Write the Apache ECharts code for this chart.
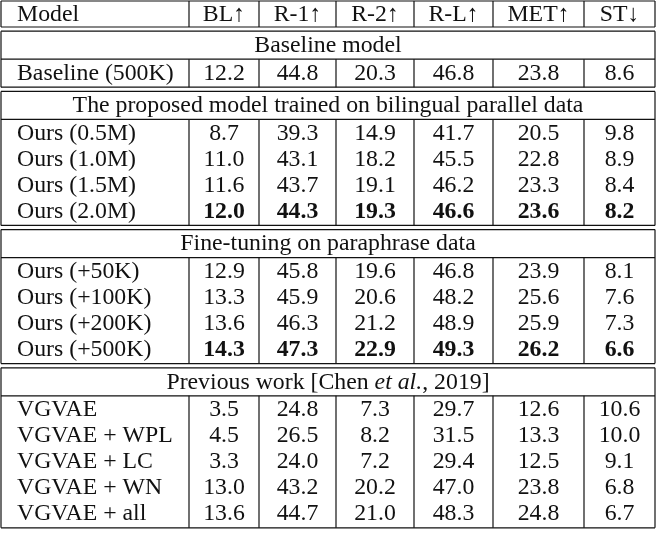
<!DOCTYPE html>
<html>
<head>
<meta charset="utf-8">
<script src="https://cdn.jsdelivr.net/npm/echarts@6/dist/echarts.min.js"></script>
<style>
html,body{margin:0;padding:0;background:#fff;}
#chart{width:658px;height:533px;}
</style>
</head>
<body>
<div id="chart"></div>
<script>
// ---------- data ----------
const headers = ['Model', 'BL↑', 'R-1↑', 'R-2↑', 'R-L↑', 'MET↑', 'ST↓'];
const sectionTitles = [
  'Baseline model',
  'The proposed model trained on bilingual parallel data',
  'Fine-tuning on paraphrase data',
  'Previous work [Chen {i|et al.}, 2019]'
];
const baselineModels = ['Baseline (500K)'];
const baselineValues = [[12.2, 44.8, 20.3, 46.8, 23.8, 8.6]];
const proposedModels = ['Ours (0.5M)', 'Ours (1.0M)', 'Ours (1.5M)', 'Ours (2.0M)'];
const proposedValues = [
  [8.7, 39.3, 14.9, 41.7, 20.5, 9.8],
  [11.0, 43.1, 18.2, 45.5, 22.8, 8.9],
  [11.6, 43.7, 19.1, 46.2, 23.3, 8.4],
  [12.0, 44.3, 19.3, 46.6, 23.6, 8.2]
];
const finetuneModels = ['Ours (+50K)', 'Ours (+100K)', 'Ours (+200K)', 'Ours (+500K)'];
const finetuneValues = [
  [12.9, 45.8, 19.6, 46.8, 23.9, 8.1],
  [13.3, 45.9, 20.6, 48.2, 25.6, 7.6],
  [13.6, 46.3, 21.2, 48.9, 25.9, 7.3],
  [14.3, 47.3, 22.9, 49.3, 26.2, 6.6]
];
const previousModels = ['VGVAE', 'VGVAE + WPL', 'VGVAE + LC', 'VGVAE + WN', 'VGVAE + all'];
const previousValues = [
  [3.5, 24.8, 7.3, 29.7, 12.6, 10.6],
  [4.5, 26.5, 8.2, 31.5, 13.3, 10.0],
  [3.3, 24.0, 7.2, 29.4, 12.5, 9.1],
  [13.0, 43.2, 20.2, 47.0, 23.8, 6.8],
  [13.6, 44.7, 21.0, 48.3, 24.8, 6.7]
];
const proposedBold = [false, false, false, true];
const finetuneBold = [false, false, false, true];

// ---------- layout (style) ----------
const W = 658, H = 533;
const colEdges = [1, 189, 259, 336, 414, 493, 584, 655];
const layout = { top: 1, headerH: 26, singleH: 28, gap: 4.2, innerH: 26, padTop: 0.5, padBottom: 1.5, textLeft: 17 };
const FONT = '"Liberation Serif", "Times New Roman", serif';
const FS = 23.8;

const sections = [
  { title: sectionTitles[0], models: baselineModels, values: baselineValues, bold: [false] },
  { title: sectionTitles[1], models: proposedModels, values: proposedValues, bold: proposedBold },
  { title: sectionTitles[2], models: finetuneModels, values: finetuneValues, bold: finetuneBold },
  { title: sectionTitles[3], models: previousModels, values: previousValues, bold: previousModels.map(() => false) }
];

// Build blocks of rows
const blocks = [];
let y = layout.top;
blocks.push({ y0: y, y1: y + layout.headerH, rows: [{ kind: 'header', y0: y, y1: y + layout.headerH }], hlines: [] });
y += layout.headerH;
sections.forEach((s) => {
  y += layout.gap;
  const b = { y0: y, rows: [], hlines: [] };
  b.rows.push({ kind: 'title', text: s.title, y0: y, y1: y + layout.singleH });
  y += layout.singleH;
  b.hlines.push(y);
  if (s.models.length > 1) {
    const startY = y + layout.padTop;
    s.models.forEach((m, i) => {
      b.rows.push({ kind: 'data', model: m, values: s.values[i], bold: s.bold[i],
        y0: startY + i * layout.innerH, y1: startY + (i + 1) * layout.innerH });
    });
    y = startY + s.models.length * layout.innerH + layout.padBottom;
  } else {
    b.rows.push({ kind: 'data', model: s.models[0], values: s.values[0], bold: s.bold[0], y0: y, y1: y + layout.singleH });
    y += layout.singleH;
  }
  b.dataY0 = b.hlines[0];
  b.y1 = y;
  blocks.push(b);
});
blocks[0].dataY0 = blocks[0].y0;

const chart = echarts.init(document.getElementById('chart'), null, { renderer: 'canvas' });

const lineStyle = { stroke: '#111', lineWidth: 1.2 };
function textEl(api, x, yc, str, align, bold) {
  const p = api.coord([x, yc]);
  return {
    type: 'text',
    style: {
      text: str, x: p[0], y: p[1], align: align, verticalAlign: 'middle',
      fill: '#111', fontFamily: FONT, fontSize: FS, fontWeight: bold ? 'bold' : 'normal',
      rich: { i: { fontStyle: 'italic', fontFamily: FONT, fontSize: FS, fill: '#111' } }
    }
  };
}
function lineEl(api, x1, y1, x2, y2) {
  const a = api.coord([x1, y1]), b = api.coord([x2, y2]);
  return { type: 'line', shape: { x1: a[0], y1: a[1], x2: b[0], y2: b[1] }, style: lineStyle };
}

chart.setOption({
  animation: false,
  backgroundColor: '#fff',
  grid: { left: 0, right: 0, top: 0, bottom: 0 },
  xAxis: { type: 'value', min: 0, max: W, show: false },
  yAxis: { type: 'value', min: 0, max: H, inverse: true, show: false },
  series: [{
    type: 'custom',
    coordinateSystem: 'cartesian2d',
    data: blocks.map((b, i) => [i]),
    renderItem: function (params, api) {
      const b = blocks[api.value(0)];
      const L = colEdges[0], R = colEdges[colEdges.length - 1];
      const children = [];
      children.push(lineEl(api, L, b.y0, R, b.y0));
      children.push(lineEl(api, L, b.y1, R, b.y1));
      children.push(lineEl(api, L, b.y0, L, b.y1));
      children.push(lineEl(api, R, b.y0, R, b.y1));
      b.hlines.forEach(hy => children.push(lineEl(api, L, hy, R, hy)));
      for (let c = 1; c < colEdges.length - 1; c++) {
        children.push(lineEl(api, colEdges[c], b.dataY0, colEdges[c], b.y1));
      }
      b.rows.forEach(r => {
        const yc = (r.y0 + r.y1) / 2 + 0.5;
        if (r.kind === 'header') {
          children.push(textEl(api, layout.textLeft, yc, headers[0], 'left', false));
          for (let c = 1; c < headers.length; c++) {
            children.push(textEl(api, (colEdges[c] + colEdges[c + 1]) / 2, yc, headers[c], 'center', false));
          }
        } else if (r.kind === 'title') {
          children.push(textEl(api, (L + R) / 2, yc, r.text, 'center', false));
        } else {
          children.push(textEl(api, layout.textLeft, yc, r.model, 'left', false));
          r.values.forEach((v, k) => {
            children.push(textEl(api, (colEdges[k + 1] + colEdges[k + 2]) / 2, yc, v.toFixed(1), 'center', r.bold));
          });
        }
      });
      return { type: 'group', children: children };
    }
  }]
});
</script>
</body>
</html>
